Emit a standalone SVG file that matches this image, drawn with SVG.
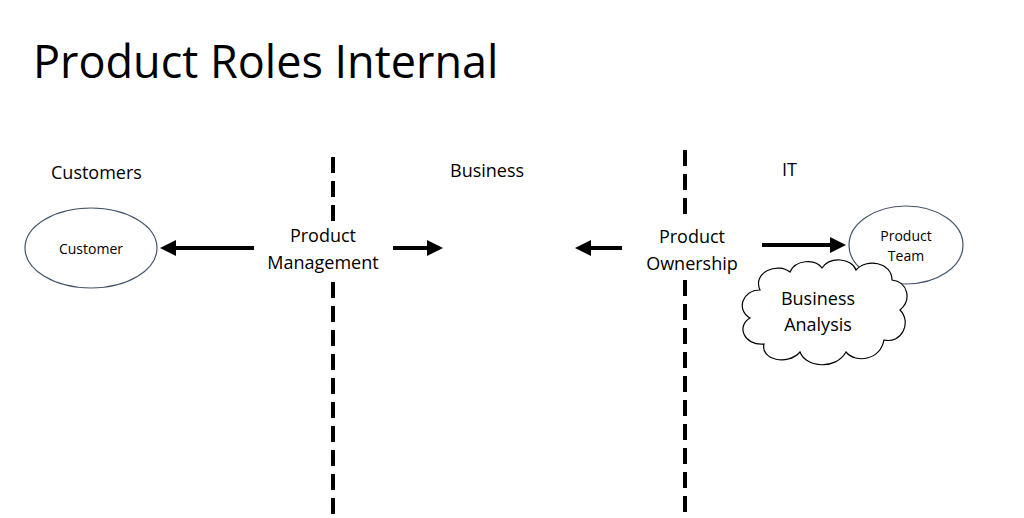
<svg xmlns="http://www.w3.org/2000/svg" width="1024" height="518" viewBox="0 0 1024 518">
<style>
text{font-family:"Open Sans","Noto Sans",sans-serif;fill:#000}
.dash{stroke:#000;stroke-width:4;stroke-dasharray:16,8;fill:none}
.arr{stroke:#000;stroke-width:4;fill:none}
.ell{fill:#fff;stroke:#44546a;stroke-width:1.2}
.lbl{font-size:18px;text-anchor:middle}
</style>
<defs>
<marker id="ah" markerWidth="4" markerHeight="4" refX="2.5" refY="2" orient="auto"><path d="M0,0 L4,2 L0,4z" fill="#000"/></marker>
</defs>
<rect width="1024" height="518" fill="#fff"/>
<text x="33" y="78" font-size="45">Product Roles Internal</text>
<text x="51" y="179" font-size="18">Customers</text>
<text x="450" y="177" font-size="18">Business</text>
<text x="782" y="176" font-size="18">IT</text>
<g id="connectors">
<path class="dash" d="M333,157 V226 M333,282 V516"/>
<path class="dash" d="M685,150 V217 M685,280 V516"/>
<path class="arr" marker-end="url(#ah)" d="M254,248 H166"/>
<path class="arr" marker-end="url(#ah)" d="M393,248 H437"/>
<path class="arr" marker-end="url(#ah)" d="M622,248 H581"/>
<path class="arr" marker-end="url(#ah)" d="M762,245 H840"/>
</g>
<g id="customer"><ellipse class="ell" cx="91" cy="248" rx="66" ry="40"/><text x="91" y="254" font-size="14" text-anchor="middle">Customer</text></g>
<g id="pm"><text class="lbl" x="323" y="242">Product</text><text class="lbl" x="323" y="269">Management</text></g>
<g id="po"><text class="lbl" x="692" y="243">Product</text><text class="lbl" x="692" y="270">Ownership</text></g>
<g id="team"><ellipse class="ell" cx="906" cy="245" rx="57" ry="39"/><text x="906" y="241" font-size="14" text-anchor="middle">Product</text><text x="906" y="261" font-size="14" text-anchor="middle">Team</text></g>
<g id="cloud"><path fill="#fff" stroke="#000" stroke-width="1.2" d="M760,290 C752,272 778,262 790,272 C795,260 815,258 822,268 C830,256 852,258 856,270 C866,258 892,262 892,280 C908,282 912,300 900,310 C912,322 902,344 884,340 C880,360 856,364 846,352 C836,370 806,368 800,352 C788,366 760,360 764,344 C744,346 736,326 750,318 C736,310 742,290 760,290 Z"/><text class="lbl" x="818" y="305">Business</text><text class="lbl" x="818" y="331">Analysis</text></g>
</svg>
